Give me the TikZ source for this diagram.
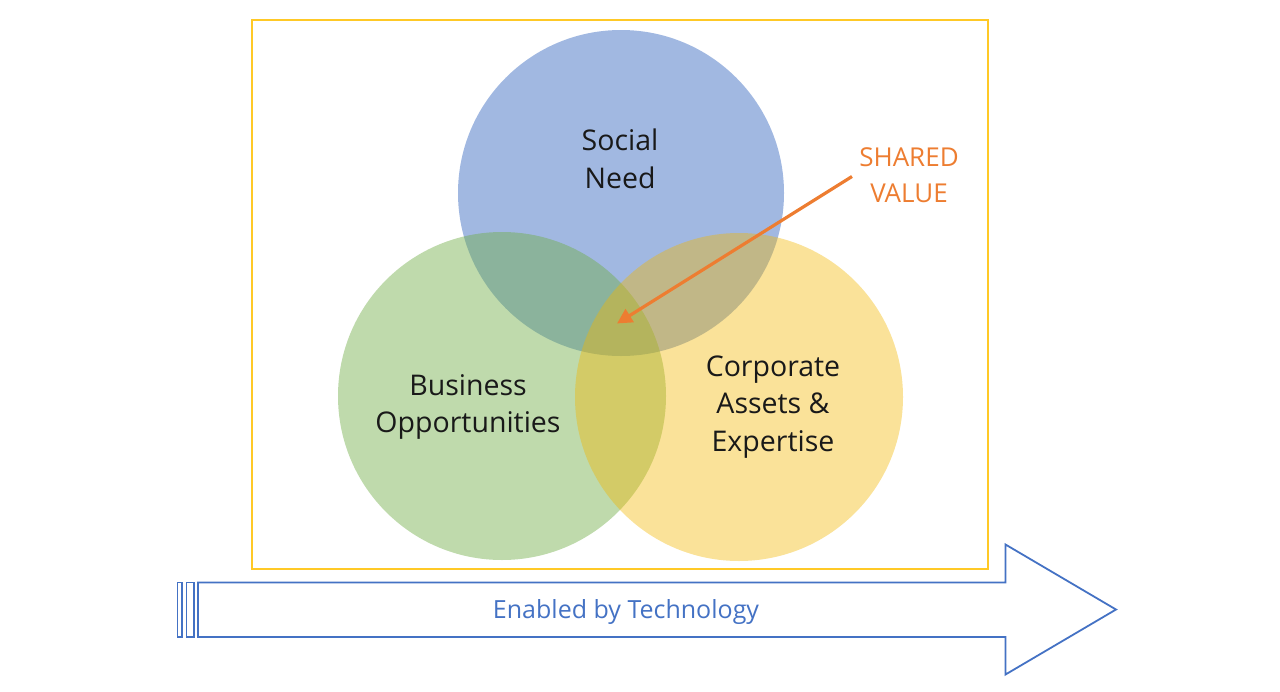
\documentclass[tikz,border=0pt]{standalone}
\usepackage{fontspec}
\setmainfont{Open Sans}
\usepackage{tikz}
\usetikzlibrary{arrows.meta}
\definecolor{officeblue}{HTML}{4472C4}
\definecolor{officegreen}{HTML}{70AD47}
\definecolor{officegold}{HTML}{FFC000}
\definecolor{officeorange}{HTML}{ED7D31}

\begin{document}
\begin{tikzpicture}[x=1pt,y=-1pt]
\tikzstyle{every node}+=[inner sep=0pt]
\tikzstyle{label text}=[align=center, text=black!90, font=\fontsize{28.5}{37.5}\selectfont]
\useasboundingbox (0,0) rectangle (1280,691);
% frame
\draw [officegold!85, line width=2pt] (251.5,19.5) rectangle (988,568.5);
% circles
\fill [officeblue, fill opacity=0.5] (621,193) circle (163);
\fill [officegreen, fill opacity=0.45] (502,396) circle (164);
\fill [officegold!95!black, fill opacity=0.4] (739,397) circle (164);
\node [label text] (social) at (620,159) {Social\\Need};
\node [label text] (business) at (468,407) {Business\\Opportunities};
\node [label text] (corporate) at (773,407) {Corporate\\Assets \&\\Expertise};
% shared value
\node [align=center, text=officeorange, font=\fontsize{26}{36}\selectfont] (shared) at (909,175) {SHARED\\VALUE};
\coordinate (sv tail) at (852,176.5);
\coordinate (sv tip) at (617,323.5);
\draw [officeorange, line width=3.2pt, -{Triangle[length=15pt,width=15pt]}] (sv tail) -- (sv tip);
% technology arrow
\draw [officeblue, line width=1.8pt, line join=miter] (198,582.5) -- (1005.5,582.5) -- (1005.5,544.5) -- (1116,609.5) -- (1005.5,674.5) -- (1005.5,637) -- (198,637) -- cycle;
\draw [officeblue, line width=1.8pt] (186.5,582.5) rectangle (194,637);
\draw [officeblue, line width=1.8pt] (177.5,582.5) rectangle (182,637);
\node [text=officeblue, font=\fontsize{25}{27}\selectfont] (technology) at (626,612) {Enabled by Technology};
\end{tikzpicture}
\end{document}
